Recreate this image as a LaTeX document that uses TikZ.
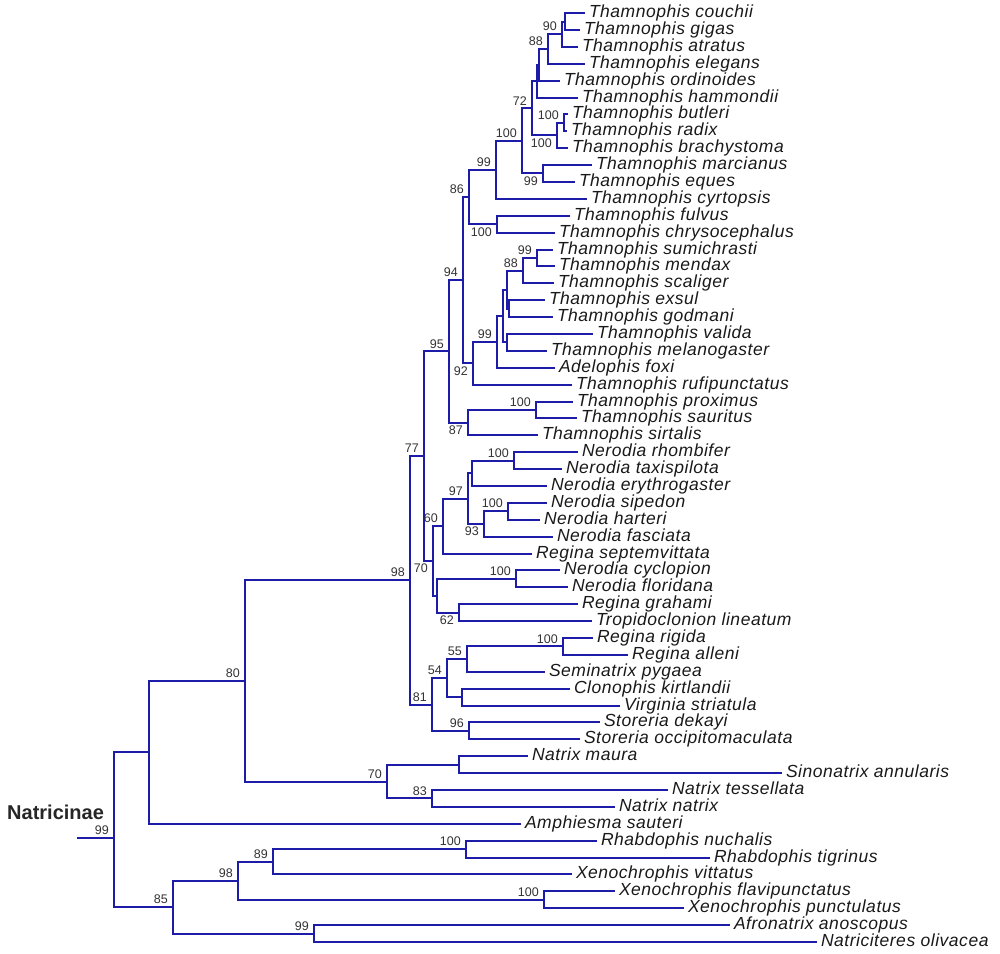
\documentclass[tikz,border=0pt]{standalone}
\usepackage{fontspec}
\setmainfont{Liberation Sans}
\newfontfamily\leaffont[LetterSpace=3]{Liberation Sans}
\definecolor{treeblue}{RGB}{28,28,168}
\tikzset{
  br/.style={draw=treeblue,line width=2pt},
  leaf/.style={anchor=west,inner sep=0pt,outer xsep=4pt,outer ysep=0pt,text height=12.5pt,text depth=3.5pt,
    font=\leaffont\itshape\fontsize{17.5}{19}\selectfont,text=black!90},
  bsup/.style={anchor=south east,inner sep=0pt,xshift=-5pt,yshift=3pt,font=\fontsize{12.5}{14}\selectfont,text=black!80},
  bsdown/.style={anchor=north east,inner sep=0pt,xshift=-5pt,yshift=-3pt,font=\fontsize{12.5}{14}\selectfont,text=black!80}
}
\begin{document}
\begin{tikzpicture}[x=1pt,y=-1pt]
    \useasboundingbox (0,0) rectangle (1000,953);
    \coordinate (nA) at (565,21.5);
    \coordinate (n90) at (562,34.1);
    \coordinate (n88) at (548,48.9);
    \coordinate (nB) at (539,64.8);
    \coordinate (nC) at (537,81.1);
    \coordinate (nBR) at (564,122.8);
    \coordinate (nD) at (557,135.4);
    \coordinate (n72) at (532,108.3);
    \coordinate (nME) at (543,173.4);
    \coordinate (n100a) at (522,140.9);
    \coordinate (n99a) at (496,169.8);
    \coordinate (nFC) at (497,224.2);
    \coordinate (n86) at (469,197.0);
    \coordinate (nSM) at (537,258.0);
    \coordinate (n88b) at (523,270.6);
    \coordinate (nF) at (509,308.6);
    \coordinate (nJ) at (507,289.6);
    \coordinate (nK) at (507,342.4);
    \coordinate (nH) at (503,316.0);
    \coordinate (n99b) at (497,341.9);
    \coordinate (n92) at (473,363.2);
    \coordinate (n94) at (463,280.1);
    \coordinate (nPS) at (536,410.0);
    \coordinate (n87) at (468,422.6);
    \coordinate (n95) at (449,351.4);
    \coordinate (nRT) at (514,460.6);
    \coordinate (nRTE) at (472,473.2);
    \coordinate (nSH) at (508,511.2);
    \coordinate (n93) at (484,523.9);
    \coordinate (n97) at (468,498.6);
    \coordinate (n60) at (443,526.0);
    \coordinate (nCF) at (516,578.8);
    \coordinate (n62) at (459,612.6);
    \coordinate (nX) at (437,595.7);
    \coordinate (n70a) at (433,560.9);
    \coordinate (n77) at (424,456.1);
    \coordinate (nRA) at (563,646.4);
    \coordinate (n55) at (467,659.0);
    \coordinate (nKS) at (462,697.1);
    \coordinate (n54) at (447,678.0);
    \coordinate (n96) at (469,730.9);
    \coordinate (n81) at (432,704.5);
    \coordinate (n98a) at (410,580.3);
    \coordinate (nMA) at (459,764.7);
    \coordinate (n83) at (432,798.4);
    \coordinate (n70b) at (387,781.6);
    \coordinate (n80) at (245,681.0);
    \coordinate (nAm) at (149,752.4);
    \coordinate (nRh) at (466,849.1);
    \coordinate (n89) at (273,861.8);
    \coordinate (nXe) at (544,899.8);
    \coordinate (n98b) at (238,880.8);
    \coordinate (n99c) at (314,933.6);
    \coordinate (n85) at (173,907.2);
    \coordinate (root) at (114,838.0);
    \coordinate (stub) at (77,838.0);
    \node[leaf] (couchii) at (585,13.0) {Thamnophis couchii};
    \node[leaf] (gigas) at (580,29.9) {Thamnophis gigas};
    \node[leaf] (atratus) at (578,46.8) {Thamnophis atratus};
    \node[leaf] (elegans) at (585,63.7) {Thamnophis elegans};
    \node[leaf] (ordinoides) at (560,80.6) {Thamnophis ordinoides};
    \node[leaf] (hammondii) at (578,97.5) {Thamnophis hammondii};
    \node[leaf] (butleri) at (568,114.3) {Thamnophis butleri};
    \node[leaf] (radix) at (567,131.2) {Thamnophis radix};
    \node[leaf] (brachystoma) at (568,148.1) {Thamnophis brachystoma};
    \node[leaf] (marcianus) at (592,165.0) {Thamnophis marcianus};
    \node[leaf] (eques) at (575,181.9) {Thamnophis eques};
    \node[leaf] (cyrtopsis) at (587,198.8) {Thamnophis cyrtopsis};
    \node[leaf] (fulvus) at (570,215.7) {Thamnophis fulvus};
    \node[leaf] (chrysocephalus) at (555,232.6) {Thamnophis chrysocephalus};
    \node[leaf] (sumichrasti) at (553,249.5) {Thamnophis sumichrasti};
    \node[leaf] (mendax) at (555,266.4) {Thamnophis mendax};
    \node[leaf] (scaliger) at (554,283.2) {Thamnophis scaliger};
    \node[leaf] (exsul) at (545,300.1) {Thamnophis exsul};
    \node[leaf] (godmani) at (553,317.0) {Thamnophis godmani};
    \node[leaf] (valida) at (593,333.9) {Thamnophis valida};
    \node[leaf] (melanogaster) at (547,350.8) {Thamnophis melanogaster};
    \node[leaf] (foxi) at (555,367.7) {Adelophis foxi};
    \node[leaf] (rufipunctatus) at (572,384.6) {Thamnophis rufipunctatus};
    \node[leaf] (proximus) at (573,401.5) {Thamnophis proximus};
    \node[leaf] (sauritus) at (577,418.4) {Thamnophis sauritus};
    \node[leaf] (sirtalis) at (538,435.3) {Thamnophis sirtalis};
    \node[leaf] (rhombifer) at (578,452.1) {Nerodia rhombifer};
    \node[leaf] (taxispilota) at (562,469.0) {Nerodia taxispilota};
    \node[leaf] (erythrogaster) at (547,485.9) {Nerodia erythrogaster};
    \node[leaf] (sipedon) at (547,502.8) {Nerodia sipedon};
    \node[leaf] (harteri) at (540,519.7) {Nerodia harteri};
    \node[leaf] (fasciata) at (553,536.6) {Nerodia fasciata};
    \node[leaf] (septemvittata) at (532,553.5) {Regina septemvittata};
    \node[leaf] (cyclopion) at (560,570.4) {Nerodia cyclopion};
    \node[leaf] (floridana) at (568,587.3) {Nerodia floridana};
    \node[leaf] (grahami) at (578,604.2) {Regina grahami};
    \node[leaf] (lineatum) at (592,621.1) {Tropidoclonion lineatum};
    \node[leaf] (rigida) at (593,637.9) {Regina rigida};
    \node[leaf] (alleni) at (628,654.8) {Regina alleni};
    \node[leaf] (pygaea) at (545,671.7) {Seminatrix pygaea};
    \node[leaf] (kirtlandii) at (570,688.6) {Clonophis kirtlandii};
    \node[leaf] (striatula) at (620,705.5) {Virginia striatula};
    \node[leaf] (dekayi) at (600,722.4) {Storeria dekayi};
    \node[leaf] (occipitomaculata) at (580,739.3) {Storeria occipitomaculata};
    \node[leaf] (maura) at (528,756.2) {Natrix maura};
    \node[leaf] (annularis) at (782,773.1) {Sinonatrix annularis};
    \node[leaf] (tessellata) at (668,790.0) {Natrix tessellata};
    \node[leaf] (natrix) at (615,806.8) {Natrix natrix};
    \node[leaf] (sauteri) at (521,823.7) {Amphiesma sauteri};
    \node[leaf] (nuchalis) at (597,840.6) {Rhabdophis nuchalis};
    \node[leaf] (tigrinus) at (710,857.5) {Rhabdophis tigrinus};
    \node[leaf] (vittatus) at (572,874.4) {Xenochrophis vittatus};
    \node[leaf] (flavipunctatus) at (615,891.3) {Xenochrophis flavipunctatus};
    \node[leaf] (punctulatus) at (684,908.2) {Xenochrophis punctulatus};
    \node[leaf] (anoscopus) at (730,925.1) {Afronatrix anoscopus};
    \node[leaf] (olivacea) at (817,942.0) {Natriciteres olivacea};
    \draw[br] (nA) |- (couchii) (nA) |- (gigas);
    \draw[br] (n90) |- (nA) (n90) |- (atratus);
    \draw[br] (n88) |- (n90) (n88) |- (elegans);
    \draw[br] (nB) |- (n88) (nB) |- (ordinoides);
    \draw[br] (nC) |- (nB) (nC) |- (hammondii);
    \draw[br] (nBR) |- (butleri) (nBR) |- (radix);
    \draw[br] (nD) |- (nBR) (nD) |- (brachystoma);
    \draw[br] (n72) |- (nC) (n72) |- (nD);
    \draw[br] (nME) |- (marcianus) (nME) |- (eques);
    \draw[br] (n100a) |- (n72) (n100a) |- (nME);
    \draw[br] (n99a) |- (n100a) (n99a) |- (cyrtopsis);
    \draw[br] (nFC) |- (fulvus) (nFC) |- (chrysocephalus);
    \draw[br] (n86) |- (n99a) (n86) |- (nFC);
    \draw[br] (nSM) |- (sumichrasti) (nSM) |- (mendax);
    \draw[br] (n88b) |- (nSM) (n88b) |- (scaliger);
    \draw[br] (nF) |- (exsul) (nF) |- (godmani);
    \draw[br] (nJ) |- (n88b) (nJ) |- (nF);
    \draw[br] (nK) |- (valida) (nK) |- (melanogaster);
    \draw[br] (nH) |- (nJ) (nH) |- (nK);
    \draw[br] (n99b) |- (nH) (n99b) |- (foxi);
    \draw[br] (n92) |- (n99b) (n92) |- (rufipunctatus);
    \draw[br] (n94) |- (n86) (n94) |- (n92);
    \draw[br] (nPS) |- (proximus) (nPS) |- (sauritus);
    \draw[br] (n87) |- (nPS) (n87) |- (sirtalis);
    \draw[br] (n95) |- (n94) (n95) |- (n87);
    \draw[br] (nRT) |- (rhombifer) (nRT) |- (taxispilota);
    \draw[br] (nRTE) |- (nRT) (nRTE) |- (erythrogaster);
    \draw[br] (nSH) |- (sipedon) (nSH) |- (harteri);
    \draw[br] (n93) |- (nSH) (n93) |- (fasciata);
    \draw[br] (n97) |- (nRTE) (n97) |- (n93);
    \draw[br] (n60) |- (n97) (n60) |- (septemvittata);
    \draw[br] (nCF) |- (cyclopion) (nCF) |- (floridana);
    \draw[br] (n62) |- (grahami) (n62) |- (lineatum);
    \draw[br] (nX) |- (nCF) (nX) |- (n62);
    \draw[br] (n70a) |- (n60) (n70a) |- (nX);
    \draw[br] (n77) |- (n95) (n77) |- (n70a);
    \draw[br] (nRA) |- (rigida) (nRA) |- (alleni);
    \draw[br] (n55) |- (nRA) (n55) |- (pygaea);
    \draw[br] (nKS) |- (kirtlandii) (nKS) |- (striatula);
    \draw[br] (n54) |- (n55) (n54) |- (nKS);
    \draw[br] (n96) |- (dekayi) (n96) |- (occipitomaculata);
    \draw[br] (n81) |- (n54) (n81) |- (n96);
    \draw[br] (n98a) |- (n77) (n98a) |- (n81);
    \draw[br] (nMA) |- (maura) (nMA) |- (annularis);
    \draw[br] (n83) |- (tessellata) (n83) |- (natrix);
    \draw[br] (n70b) |- (nMA) (n70b) |- (n83);
    \draw[br] (n80) |- (n98a) (n80) |- (n70b);
    \draw[br] (nAm) |- (n80) (nAm) |- (sauteri);
    \draw[br] (nRh) |- (nuchalis) (nRh) |- (tigrinus);
    \draw[br] (n89) |- (nRh) (n89) |- (vittatus);
    \draw[br] (nXe) |- (flavipunctatus) (nXe) |- (punctulatus);
    \draw[br] (n98b) |- (n89) (n98b) |- (nXe);
    \draw[br] (n99c) |- (anoscopus) (n99c) |- (olivacea);
    \draw[br] (n85) |- (n98b) (n85) |- (n99c);
    \draw[br] (root) |- (nAm) (root) |- (n85);
    \draw[br] (stub) -- (root);
    \node[bsup] (b90) at (n90) {90};
    \node[bsup] (b88) at (n88) {88};
    \node[bsup] (b72) at (n72) {72};
    \node[bsup] (bBR) at (nBR) {100};
    \node[bsdown] (bD) at (nD) {100};
    \node[bsdown] (bME) at (nME) {99};
    \node[bsup] (b100a) at (n100a) {100};
    \node[bsup] (b99a) at (n99a) {99};
    \node[bsdown] (bFC) at (nFC) {100};
    \node[bsup] (b86) at (n86) {86};
    \node[bsup] (bSM) at (nSM) {99};
    \node[bsup] (b88b) at (n88b) {88};
    \node[bsup] (b99b) at (n99b) {99};
    \node[bsdown] (b92) at (n92) {92};
    \node[bsup] (b94) at (n94) {94};
    \node[bsup] (bPS) at (nPS) {100};
    \node[bsdown] (b87) at (n87) {87};
    \node[bsup] (b95) at (n95) {95};
    \node[bsup] (bRT) at (nRT) {100};
    \node[bsup] (bSH) at (nSH) {100};
    \node[bsdown] (b93) at (n93) {93};
    \node[bsup] (b97) at (n97) {97};
    \node[bsup] (b60) at (n60) {60};
    \node[bsup] (bCF) at (nCF) {100};
    \node[bsdown] (b62) at (n62) {62};
    \node[bsdown] (b70a) at (n70a) {70};
    \node[bsup] (b77) at (n77) {77};
    \node[bsup] (bRA) at (nRA) {100};
    \node[bsup] (b55) at (n55) {55};
    \node[bsup] (b54) at (n54) {54};
    \node[bsup] (b96) at (n96) {96};
    \node[bsup] (b81) at (n81) {81};
    \node[bsup] (b98a) at (n98a) {98};
    \node[bsup] (b83) at (n83) {83};
    \node[bsup] (b70b) at (n70b) {70};
    \node[bsup] (b80) at (n80) {80};
    \node[bsup] (bRh) at (nRh) {100};
    \node[bsup] (b89) at (n89) {89};
    \node[bsup] (bXe) at (nXe) {100};
    \node[bsup] (b98b) at (n98b) {98};
    \node[bsup] (b99c) at (n99c) {99};
    \node[bsup] (b85) at (n85) {85};
    \node[bsup] (broot) at (root) {99};
    \node[anchor=base west,inner sep=0pt,font=\bfseries\fontsize{20}{22}\selectfont,text=black!85] (clade) at (7,819) {Natricinae};
\end{tikzpicture}
\end{document}
